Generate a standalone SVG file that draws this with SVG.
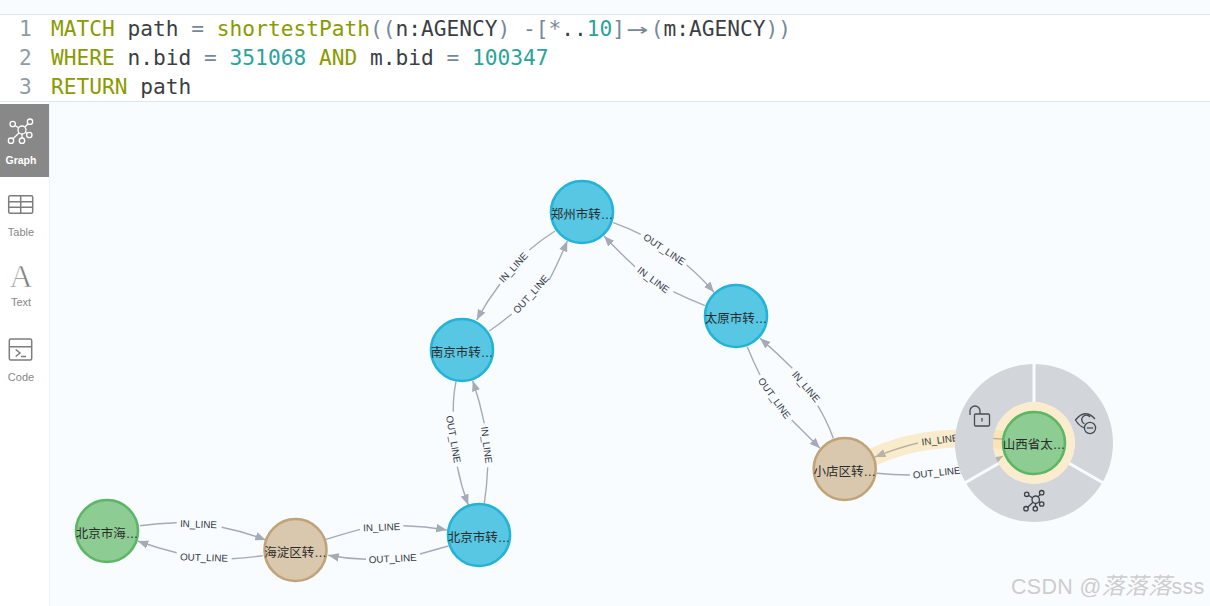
<svg xmlns="http://www.w3.org/2000/svg" width="1210" height="606" viewBox="0 0 1210 606">
<style>
.code{font-family:"DejaVu Sans Mono","Liberation Mono",monospace;font-size:21.2px;fill:#3b3f45}
.ln{fill:#8f9ca3}.kw{fill:#8a9a00}.num{fill:#2ba39b}.p{fill:#76899a}
.side{font-family:"Liberation Sans",Arial,sans-serif;font-size:11px;fill:#878787;text-anchor:middle}
.ic{fill:none;stroke:#7d7d7d;stroke-width:1.5}
.gi{fill:none;stroke:#fff;stroke-width:1.3}
.wi{fill:none;stroke:#474c54;stroke-width:1.3}
.e{fill:none;stroke:#a5abb6;stroke-width:1.4}
.a{marker-end:url(#arr)}
.et{fill:none;stroke:#b8b3a6;stroke-width:1.4}
.at{marker-end:url(#arrt)}
.el{font-family:"Liberation Sans",Arial,sans-serif;font-size:9.8px;fill:#33373f;text-anchor:middle}
.nl{font-family:"Liberation Sans","Noto Sans CJK SC",sans-serif;font-size:12.5px;fill:#2b2b2b;text-anchor:middle}
.blue{fill:#57c7e3;stroke:#23b3d7;stroke-width:2.6}
.tan{fill:#d9c8ae;stroke:#c0a378;stroke-width:2.6}
.green{fill:#8dcc93;stroke:#5db665;stroke-width:2.6}
.sec{fill:#d2d5da}
.gap{stroke:#f9fcff;stroke-width:3}
</style>
<defs>
<marker id="arr" markerUnits="userSpaceOnUse" markerWidth="11" markerHeight="9" viewBox="0 0 11 9" refX="10.5" refY="4.5" orient="auto"><path d="M0 0.3L10.5 4.5L0 8.7Z" fill="#a5abb6"/></marker>
<marker id="arrt" markerUnits="userSpaceOnUse" markerWidth="11" markerHeight="9" viewBox="0 0 11 9" refX="10.5" refY="4.5" orient="auto"><path d="M0 0.3L10.5 4.5L0 8.7Z" fill="#b8b3a6"/></marker>
</defs>

<rect width="1210" height="606" fill="#f9fcff"/>
<g id="editor">
<rect x="0" y="14.5" width="1210" height="87" fill="#fff"/>
<path d="M0 14.5H1210M0 101.5H1210" stroke="#dde7ef" stroke-width="1" fill="none"/>
<text class="code ln" x="19" y="36">1</text>
<text class="code ln" x="19" y="65">2</text>
<text class="code ln" x="19" y="94">3</text>
<text class="code" x="51" y="36" xml:space="preserve"><tspan class="kw">MATCH</tspan> path <tspan class="p">=</tspan> <tspan class="kw">shortestPath</tspan><tspan class="p">((</tspan>n:AGENCY<tspan class="p">)</tspan> <tspan class="p">-[*</tspan>..<tspan class="num">10</tspan><tspan class="p">]</tspan></text>
<text class="code p" transform="translate(626.5 36) scale(1.7 1)">→</text>
<text class="code" x="650.7" y="36"><tspan class="p">(</tspan>m:AGENCY<tspan class="p">))</tspan></text>
<text class="code" x="51" y="65" xml:space="preserve"><tspan class="kw">WHERE</tspan> n.bid <tspan class="p">=</tspan> <tspan class="num">351068</tspan> <tspan class="kw">AND</tspan> m.bid <tspan class="p">=</tspan> <tspan class="num">100347</tspan></text>
<text class="code" x="51" y="94" xml:space="preserve"><tspan class="kw">RETURN</tspan> path</text>
</g>

<g id="sidebar">
<rect x="0" y="102" width="49" height="504" fill="#fff"/>
<path d="M49.5 102V606" stroke="#edf1f5" fill="none"/>
<rect x="0" y="104" width="49" height="73" fill="#888"/>
<g class="gi">
<path d="M22 130L12.7 124M22 130L30 121.7M22 130L29.3 135M22 130V140.7M22 130L11 140.7"/>
<circle cx="22" cy="130" r="4" fill="#888"/>
<circle cx="12.7" cy="124" r="2.7" fill="#888"/><circle cx="30" cy="121.7" r="2.7" fill="#888"/><circle cx="29.3" cy="135" r="2.7" fill="#888"/><circle cx="22" cy="140.7" r="2.7" fill="#888"/><circle cx="11" cy="140.7" r="2.7" fill="#888"/>
</g>
<text class="side" x="21" y="164" style="fill:#fff;font-weight:700;font-size:10.5px">Graph</text>
<rect class="ic" x="8.7" y="195.7" width="24" height="17.6" rx="1.5"/>
<path class="ic" d="M8.7 201.7H32.7M8.7 207.3H32.7M20.7 195.7V213.3"/>
<text class="side" x="21" y="236">Table</text>
<text x="21" y="287" text-anchor="middle" style="font-family:'Liberation Serif',serif;font-size:32px;fill:#7d7d7d;stroke:#fff;stroke-width:.7">A</text>
<text class="side" x="21" y="306">Text</text>
<rect class="ic" x="9.3" y="339" width="22.4" height="21" rx="1.5"/>
<path class="ic" d="M9.3 346.7H31.7M15.7 349.5L20 353L15.7 356.5M21 356.5H26"/>
<text class="side" x="21" y="381">Code</text>
</g>

<g id="selection-halo">
<circle cx="1034" cy="443" r="41" fill="#fbeccd"/>
</g>

<g id="connectors">
<path d="M862 463Q915 432 1004 440" fill="none" stroke="#f9dc9c" stroke-opacity=".5" stroke-width="18"/>

<path class="e" d="M140 525.7Q158 523 176.7 522.7"/><path class="e a" d="M221.7 527.3Q245 532 265.7 540"/>
<text class="el" transform="translate(198.5 524.3) rotate(2)" y="3.3">IN_LINE</text>

<path class="e" d="M262.7 555.7Q247 558 231.7 558.7"/><path class="e a" d="M176.7 552.7Q157 548 137.7 541"/>
<text class="el" transform="translate(204 557.7) rotate(2)" y="3.3">OUT_LINE</text>

<path class="e" d="M326 539.3Q343 534 360 529.3"/><path class="e a" d="M403.3 525.7Q425 526 446.7 530"/>
<text class="el" transform="translate(381.7 527.3) rotate(-2)" y="3.3">IN_LINE</text>

<path class="e" d="M448.3 546Q434 550 420 554"/><path class="e a" d="M366 559.3Q347 559 328.3 555.3"/>
<text class="el" transform="translate(392.7 558.7) rotate(-3)" y="3.3">OUT_LINE</text>

<path class="e" d="M456 381.7Q453 396 453.3 411.7"/><path class="e a" d="M457.3 466.7Q461 486 468.3 505"/>
<text class="el" transform="translate(453.3 439.3) rotate(80)" y="3.3">OUT_LINE</text>

<path class="e" d="M484.3 503.3Q487 486 487.7 467.3"/><path class="e a" d="M484.3 423.3Q480 402 472.7 380.7"/>
<text class="el" transform="translate(486.5 445) rotate(83)" y="3.3">IN_LINE</text>

<path class="e" d="M555 231Q541 240 529.3 250"/><path class="e a" d="M500 284Q487 301 476.7 320"/>
<text class="el" transform="translate(513.5 267.5) rotate(-47)" y="3.3">IN_LINE</text>

<path class="e" d="M489.3 331Q501 323 511.7 314"/><path class="e a" d="M549.3 280Q559 261 567.3 241"/>
<text class="el" transform="translate(531 294.3) rotate(-48)" y="3.3">OUT_LINE</text>

<path class="e" d="M613.3 222.7Q628 228 640.7 234.3"/><path class="e a" d="M686.7 265Q702 278 714 292.3"/>
<text class="el" transform="translate(664.3 249.5) rotate(34)" y="3.3">OUT_LINE</text>

<path class="e" d="M705 305.7Q688 299 673.3 291.7"/><path class="e a" d="M635 266.7Q619 252 604 236"/>
<text class="el" transform="translate(653.3 280) rotate(37)" y="3.3">IN_LINE</text>

<path class="e" d="M747.3 346.7Q753 361 760 375"/><path class="e a" d="M791.7 420Q806 434 820 448.3"/>
<text class="el" transform="translate(774.3 398.3) rotate(54)" y="3.3">OUT_LINE</text>

<path class="e" d="M833.3 438.3Q827 421 817.7 405.7"/><path class="e a" d="M792.3 368.3Q777 353 760 338.3"/>
<text class="el" transform="translate(806 386.7) rotate(50)" y="3.3">IN_LINE</text>

<path class="et" d="M1002 439Q985 438 960 438"/><path class="et at" d="M918 443Q897 448 875 457"/>
<text class="el" transform="translate(940 440) rotate(-7)" y="3.3">IN_LINE</text>

<path class="e" d="M876.7 473.3Q893 475 910 475"/><path class="et at" d="M965 470Q985 466 1003 456"/>
<text class="el" transform="translate(936.7 472.7) rotate(-6)" y="3.3">OUT_LINE</text>
</g>

<g id="wheel">
<path class="sec" d="M1034 364A79 79 0 0 1 1102.4 482.5L1069.5 463.5A41 41 0 0 0 1034 402Z"/>
<path class="sec" d="M1102.4 482.5A79 79 0 0 1 965.6 482.5L998.5 463.5A41 41 0 0 0 1069.5 463.5Z"/>
<path class="sec" d="M965.6 482.5A79 79 0 0 1 1034 364L1034 402A41 41 0 0 0 998.5 463.5Z"/>
<path class="gap" d="M1034 363V402M1069.5 463.5L1103.3 483M998.5 463.5L964.7 483" fill="none"/>
<g class="wi">
<rect x="974.5" y="414" width="15" height="12" rx="1"/>
<path d="M970 415V411A5 5 0 0 1 980 411V414M982 418V421.5"/>
</g>
<g class="wi">
<path d="M1084.5 428Q1079 426 1075.5 420Q1085 408 1095 419"/>
<path d="M1084.5 424A4.6 4.6 0 1 1 1090 417"/>
<circle cx="1090" cy="428" r="5.6"/>
<path d="M1086.8 428H1093.2"/>
</g>
<g class="wi" style="stroke:#3c4148">
<path d="M1035.7 499.7L1026.7 494.3M1035.7 499.7L1041.7 492.7M1035.7 499.7L1041.7 504M1035.7 499.7L1035.3 508.7M1035.7 499.7L1026 508.7"/>
<circle cx="1035.7" cy="499.7" r="3.7" fill="#d2d5da"/>
<circle cx="1026.7" cy="494.3" r="2.2" fill="#d2d5da"/><circle cx="1041.7" cy="492.7" r="2.2" fill="#d2d5da"/><circle cx="1041.7" cy="504" r="2.2" fill="#d2d5da"/><circle cx="1035.3" cy="508.7" r="2.2" fill="#d2d5da"/><circle cx="1026" cy="508.7" r="2.2" fill="#d2d5da"/>
</g>
</g>

<g id="node-zhengzhou"><circle class="blue" cx="582" cy="212" r="31"/><text class="nl" x="582" y="219">郑州市转…</text></g>
<g id="node-taiyuan"><circle class="blue" cx="736" cy="316" r="31"/><text class="nl" x="736" y="322.5">太原市转…</text></g>
<g id="node-nanjing"><circle class="blue" cx="462" cy="350" r="31"/><text class="nl" x="462" y="356.5">南京市转…</text></g>
<g id="node-beijing-hub"><circle class="blue" cx="479" cy="535" r="31"/><text class="nl" x="479" y="541.5">北京市转…</text></g>
<g id="node-haidian"><circle class="tan" cx="295.5" cy="550" r="31"/><text class="nl" x="295.5" y="557">海淀区转…</text></g>
<g id="node-beijing-haidian"><circle class="green" cx="107" cy="531" r="31"/><text class="nl" x="107" y="537.5">北京市海…</text></g>
<g id="node-xiaodian"><circle class="tan" cx="844.7" cy="469" r="31"/><text class="nl" x="844.7" y="475.5">小店区转…</text></g>
<g id="node-shanxi"><circle class="green" cx="1034" cy="443" r="31"/><text class="nl" x="1034" y="449">山西省太…</text></g>

<text x="1011" y="594" style="font-family:'Liberation Sans','Noto Sans CJK SC',sans-serif;font-size:21.5px;fill:#cdcdcd;letter-spacing:.3px">CSDN @<tspan style="font-style:italic;font-size:23px">落落落</tspan>sss</text>
</svg>
